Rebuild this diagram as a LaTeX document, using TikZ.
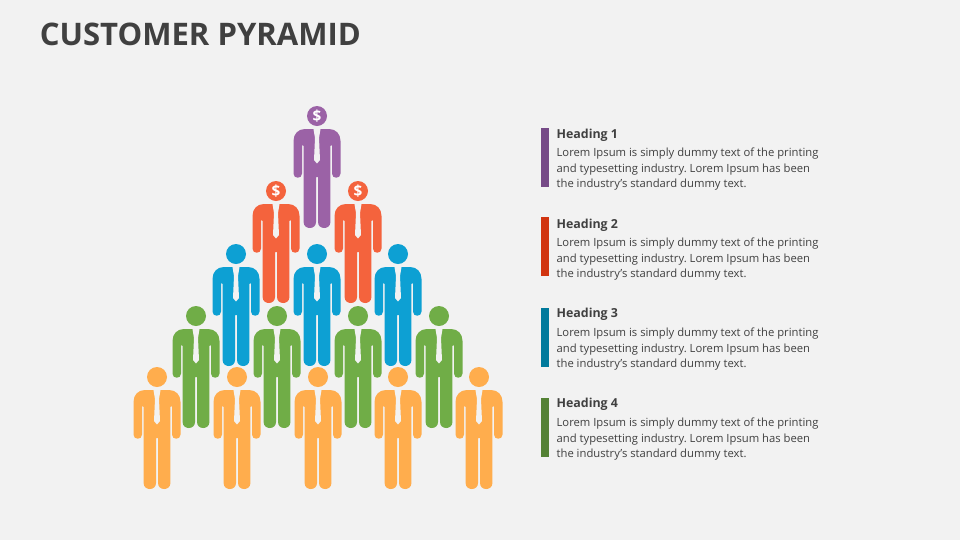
\documentclass[tikz,border=0pt]{standalone}
\usepackage{fontspec}
\setmainfont{Open Sans}
\usetikzlibrary{positioning}
\definecolor{pagebg}{HTML}{F2F2F2}
\definecolor{txtgray}{HTML}{404040}
\definecolor{ppurple}{HTML}{9B62A6}
\definecolor{pred}{HTML}{F4633D}
\definecolor{pblue}{HTML}{0DA0D3}
\definecolor{pgreen}{HTML}{70AD47}
\definecolor{porange}{HTML}{FFAD4D}
\definecolor{bpurple}{HTML}{764A87}
\definecolor{bred}{HTML}{D13410}
\definecolor{bblue}{HTML}{017A9C}
\definecolor{bgreen}{HTML}{548235}

\begin{document}
\frenchspacing
\begin{tikzpicture}[
  x=0.75pt, y=-0.75pt,
  head/.style={circle, fill=#1, minimum size=15pt, inner sep=0pt, text=white,
               font=\fontsize{11.5}{12}\selectfont\bfseries},
  bar/.style={fill=#1, minimum width=6pt, minimum height=44.25pt, inner sep=0pt},
  ttl/.style={font=\fontsize{23.3}{28}\selectfont\bfseries, text=txtgray, inner sep=0pt},
  hd/.style={font=\fontsize{9.3}{11}\selectfont\bfseries, text=txtgray, inner sep=0pt},
  para/.style={font=\fontsize{8.45}{11.6}\selectfont, text=txtgray, align=left, inner sep=0pt},
  pics/person/.style 2 args={code={
    \fill[#1] (-12,13) .. controls (-19,13) and (-23.5,18) .. (-23.5,25)
      -- (-23.5,57.6) .. controls (-23.5,63.1) and (-15,63.1) .. (-15,57.6)
      -- (-15,30) .. controls (-15,28.5) and (-13.4,28.5) .. (-13.4,30)
      -- (-13.4,106) .. controls (-13.4,114) and (-1,114) .. (-1,106)
      -- (-1,61) -- (1,61)
      -- (1,106) .. controls (1,114) and (13.4,114) .. (13.4,106)
      -- (13.4,30) .. controls (13.4,28.5) and (15,28.5) .. (15,30)
      -- (15,57.6) .. controls (15,63.1) and (23.5,63.1) .. (23.5,57.6)
      -- (23.5,25) .. controls (23.5,18) and (19,13) .. (12,13) -- cycle;
    % tie
    \fill[pagebg] (-3.6,12.5) -- (3.6,12.5) -- (2,22) -- (3,44) -- (0,47.5) -- (-3,44) -- (-2,22) -- cycle;
    \node[head=#1] (-head) at (0,0) {#2};
  }},
]
\fill[pagebg] (0,0) rectangle (960,540);
\useasboundingbox (0,0) rectangle (960,540);

\node[ttl, anchor=west] (title) at (39.5,34.5) {CUSTOMER PYRAMID};

% Bottom row
\foreach \i/\px in {1/157,2/237,3/318,4/398,5/479}
  \pic (o\i) at (\px,377) {person={porange}{}};
% Second row
\foreach \i/\px in {1/196,2/277,3/358,4/439}
  \pic (g\i) at (\px,316) {person={pgreen}{}};
% Third row
\foreach \i/\px in {1/236,2/317,3/398}
  \pic (b\i) at (\px,254) {person={pblue}{}};
% Top rows
\pic (r1) at (276,191) {person={pred}{\$}};
\pic (r2) at (358,191) {person={pred}{\$}};
\pic (p1) at (317,116) {person={ppurple}{\$}};

% Headings
\foreach \i/\py/\col/\dy/\gap in {1/157.5/bpurple/0/4.6,2/246.5/bred/0.75/4.6,3/337.5/bblue/0/5.4,4/427.5/bgreen/0/5.4}{
  \node[bar=\col] (bar\i) at (545,\py) {};
  \node[para, above right=-2.6pt-\dy pt and 5.3pt of bar\i.south east] (txt\i)
    {Lorem Ipsum is simply dummy text of the printing\\
     and typesetting industry. Lorem Ipsum has been\\
     the industry's standard dummy text.};
  \node[hd, above=\gap pt of txt\i.north west, anchor=south west] (hd\i) {Heading \i};
}
\end{tikzpicture}
\end{document}
